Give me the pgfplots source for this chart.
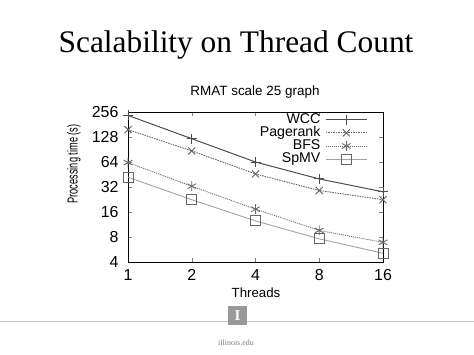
\documentclass[border=0pt]{standalone}
\usepackage{fontspec}
\setmainfont{Liberation Sans}
\newfontfamily\titlefont{Liberation Serif}
\usepackage{pgfplots}
\pgfplotsset{compat=1.18}
\definecolor{cwcc}{gray}{0.30}
\definecolor{cpr}{gray}{0.38}
\definecolor{cbfs}{gray}{0.42}
\definecolor{cspmv}{gray}{0.64}
\begin{document}
\begin{tikzpicture}
\path[fill=white,use as bounding box] (0,0) rectangle (474bp,355bp);
\node[font=\titlefont\fontsize{31.5}{34}\selectfont] at (236bp,310bp) {Scalability on Thread Count};
\node[font=\fontsize{13.5}{16}\selectfont] at (255bp,263bp) {RMAT scale 25 graph};
\node[font=\fontsize{13.3}{16}\selectfont] at (256bp,62bp) {Threads};
\node[font=\fontsize{14.5}{16}\selectfont,rotate=90] at (74bp,191bp) {\scalebox{0.64}[1]{Processing time (s)}};
\begin{axis}[
  at={(128bp,93bp)}, anchor=south west,
  width=255bp, height=150bp, scale only axis,
  xmode=log, ymode=log, log basis x=2, log basis y=2,
  xmin=1, xmax=16, ymin=4, ymax=256,
  xtick={1,2,4,8,16}, xticklabels={1,2,4,8,16},
  ytick={4,8,16,32,64,128,256}, yticklabels={4,8,16,32,64,128,256},
  minor xtick={}, minor ytick={},
  tick align=inside, major tick length=4bp,
  tick label style={font=\fontsize{16}{18}\selectfont},
  yticklabel style={anchor=east, xshift=-6bp},
  xticklabel style={anchor=north, yshift=-4bp},
  /pgf/number format/assume math mode=true,
  axis line style={black, line width=0.8pt},
  legend style={draw=none, fill=none, at={(0.94,0.99)}, anchor=north east,
    font=\fontsize{14.2}{14}\selectfont, row sep=1.2pt, column sep=5pt, inner sep=0pt,
    nodes={inner sep=0pt, text height=9.5pt, text depth=2.5pt}},
  legend cell align=right, legend plot pos=right,
  legend image code/.code={\draw[#1] (0cm,0cm) -- (1.45cm,0cm); \path[#1,only marks] plot coordinates {(0.72cm,0cm)};},
  mark size=5bp,
]
\addplot[cwcc, line width=1pt, mark=+, mark options={solid}] coordinates {(1,233) (2,122) (4,64) (8,40) (16,28)};
\addlegendentry{WCC}
\addplot[cpr, line width=0.9pt, dash pattern=on 1.5pt off 1pt, mark=x, mark options={solid}] coordinates {(1,157) (2,87) (4,46) (8,29) (16,22.5)};
\addlegendentry{Pagerank}
\addplot[cbfs, line width=0.9pt, dash pattern=on 1pt off 1pt, mark=asterisk, mark options={solid}] coordinates {(1,63) (2,32.7) (4,17.3) (8,9.6) (16,6.9)};
\addlegendentry{BFS}
\addplot[cspmv, line width=0.9pt, mark=square, mark options={solid, draw=gray!80!black}] coordinates {(1,42) (2,22.5) (4,12.5) (8,7.6) (16,5.1)};
\addlegendentry{SpMV}
\end{axis}
\draw[gray!45, line width=0.8pt] (0,34bp) -- (474bp,34bp);
\fill[gray!80] (228bp,30bp) rectangle (247bp,49bp);
\node[text=white, font=\titlefont\bfseries\fontsize{15}{15}\selectfont] at (237.5bp,39.5bp) {I};
\node[text=gray, font=\titlefont\fontsize{8}{9}\selectfont] at (236bp,12bp) {illinois.edu};
\end{tikzpicture}
\end{document}
